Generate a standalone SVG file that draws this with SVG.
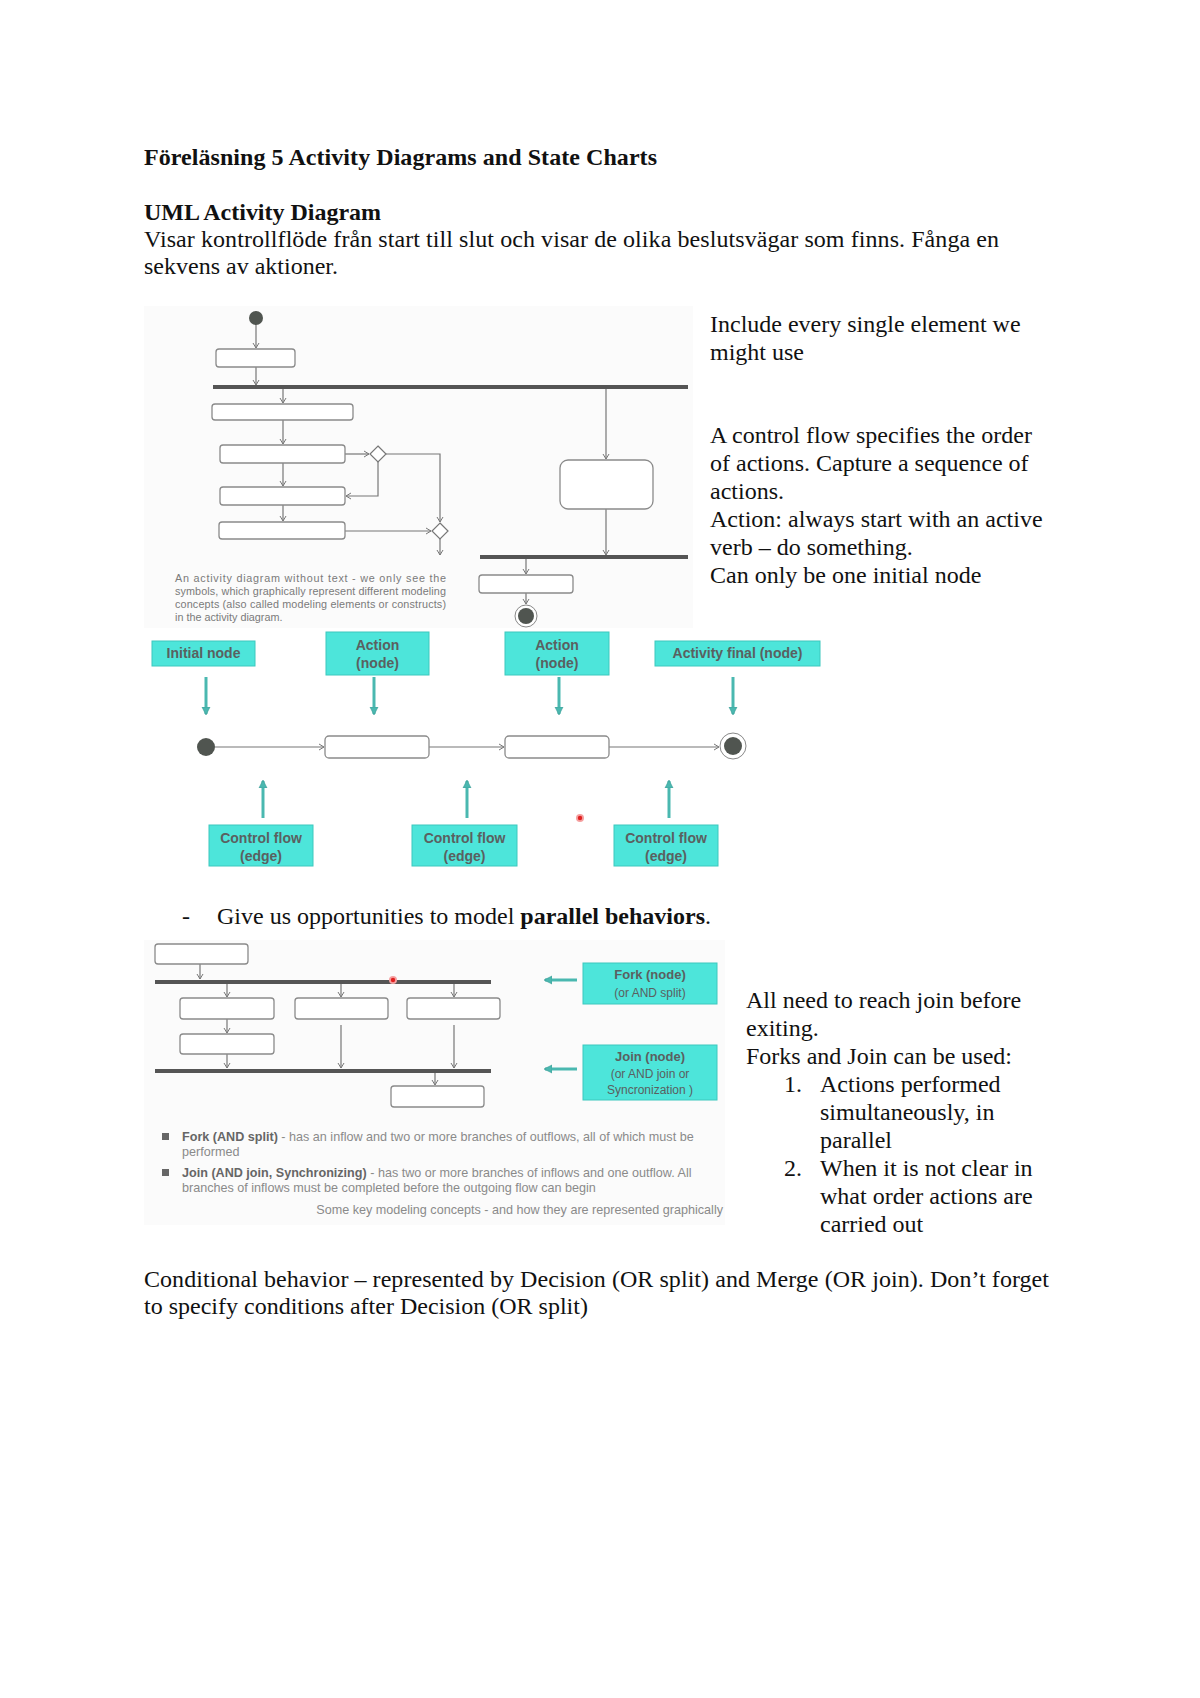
<svg xmlns="http://www.w3.org/2000/svg" width="1200" height="1698" viewBox="0 0 1200 1698">
<style>
.body{font-family:"Liberation Serif","Times New Roman",serif;font-size:24px;fill:#111}
.bold{font-weight:bold}
.box{fill:#fff;stroke:#8a8a8a;stroke-width:1.3}
.bar{fill:#555}
.dot{fill:#505550}
.ln{fill:none;stroke:#777;stroke-width:1.2}
.cap{font-family:"Liberation Sans",Arial,sans-serif;font-size:10.8px;fill:#7a7a7a}
.cy{fill:#4de5da;stroke:#3cc8be;stroke-width:1}
.cyt{font-family:"Liberation Sans",Arial,sans-serif;font-size:14px;font-weight:bold;fill:#5a6060;text-anchor:middle}
.cyn{font-family:"Liberation Sans",Arial,sans-serif;font-size:12px;fill:#5a6060;text-anchor:middle}
.cyf{font-family:"Liberation Sans",Arial,sans-serif;font-size:13px;font-weight:bold;fill:#5a6060;text-anchor:middle}
.tarr{fill:none;stroke:#4ab8b0;stroke-width:3}
.bul{font-family:"Liberation Sans",Arial,sans-serif;font-size:12.6px;fill:#8a8a8a}
.bulb{font-weight:bold;fill:#666}
</style>
<defs>
<marker id="oa" markerWidth="8" markerHeight="8" refX="6" refY="4" orient="auto" markerUnits="userSpaceOnUse">
<path d="M1,1 L6,4 L1,7" fill="none" stroke="#777" stroke-width="1"/>
</marker>
<marker id="ta" markerWidth="10" markerHeight="10" refX="7" refY="5" orient="auto" markerUnits="userSpaceOnUse">
<path d="M0,1 L8,5 L0,9 Z" fill="#4ab8b0" stroke="#3a9a94" stroke-width="0.6"/>
</marker>
</defs>
<rect width="1200" height="1698" fill="#fff"/>

<!-- Heading text -->
<g id="heading">
<text class="body bold" x="144" y="165" textLength="513" lengthAdjust="spacing">Föreläsning 5 Activity Diagrams and State Charts</text>
<text class="body bold" x="144" y="220" textLength="237" lengthAdjust="spacing">UML Activity Diagram</text>
<text class="body" x="144" y="247" textLength="855" lengthAdjust="spacing">Visar kontrollflöde från start till slut och visar de olika beslutsvägar som finns. Fånga en</text>
<text class="body" x="144" y="274">sekvens av aktioner.</text>
</g>

<!-- Top activity diagram image -->
<rect x="144" y="306" width="549" height="322" fill="#fbfbfb"/>
<g id="connectors-top">
<path class="ln" d="M256,325 V348" marker-end="url(#oa)"/>
<path class="ln" d="M256,367 V385" marker-end="url(#oa)"/>
<path class="ln" d="M283,389 V403" marker-end="url(#oa)"/>
<path class="ln" d="M606,389 V459" marker-end="url(#oa)"/>
<path class="ln" d="M283,420 V444" marker-end="url(#oa)"/>
<path class="ln" d="M345,454 H369" marker-end="url(#oa)"/>
<path class="ln" d="M378,462 V496 H346" marker-end="url(#oa)"/>
<path class="ln" d="M386,454 H440 V522" marker-end="url(#oa)"/>
<path class="ln" d="M283,463 V486" marker-end="url(#oa)"/>
<path class="ln" d="M283,505 V521" marker-end="url(#oa)"/>
<path class="ln" d="M345,531 H431" marker-end="url(#oa)"/>
<path class="ln" d="M440,539 V555" marker-end="url(#oa)"/>
<path class="ln" d="M606,509 V555" marker-end="url(#oa)"/>
<path class="ln" d="M526,559 V574" marker-end="url(#oa)"/>
<path class="ln" d="M526,593 V604" marker-end="url(#oa)"/>
</g>
<g id="t-initial"><circle class="dot" cx="256" cy="318" r="7"/></g>
<g id="t-box1"><rect class="box" x="216" y="349" width="79" height="18" rx="3"/></g>
<g id="t-fork"><rect class="bar" x="213" y="385" width="475" height="4"/></g>
<g id="t-box2"><rect class="box" x="212" y="404" width="141" height="16" rx="3"/></g>
<g id="t-box3"><rect class="box" x="220" y="445" width="125" height="18" rx="3"/></g>
<g id="t-dec1"><path d="M378,446 L386,454 L378,462 L370,454 Z" fill="#fff" stroke="#777" stroke-width="1.2"/></g>
<g id="t-box4"><rect class="box" x="220" y="487" width="125" height="18" rx="3"/></g>
<g id="t-box5"><rect class="box" x="219" y="522" width="126" height="17" rx="3"/></g>
<g id="t-merge"><path d="M440,523 L448,531 L440,539 L432,531 Z" fill="#fff" stroke="#777" stroke-width="1.2"/></g>
<g id="t-rbox"><rect class="box" x="560" y="460" width="93" height="49" rx="8"/></g>
<g id="t-join"><rect class="bar" x="480" y="555" width="208" height="4"/></g>
<g id="t-box6"><rect class="box" x="479" y="575" width="94" height="18" rx="3"/></g>
<g id="t-final"><circle cx="526" cy="616" r="11" fill="#fff" stroke="#888" stroke-width="1"/><circle class="dot" cx="526" cy="616" r="8"/></g>
<g id="t-caption">
<text class="cap" x="175" y="582" textLength="271" lengthAdjust="spacing">An activity diagram without text - we only see the</text>
<text class="cap" x="175" y="595" textLength="271" lengthAdjust="spacing">symbols, which graphically represent different modeling</text>
<text class="cap" x="175" y="608" textLength="271" lengthAdjust="spacing">concepts (also called modeling elements or constructs)</text>
<text class="cap" x="175" y="621">in the activity diagram.</text>
</g>

<!-- Right column text 1 -->
<g id="notes1">
<text class="body" x="710" y="332">Include every single element we</text>
<text class="body" x="710" y="360">might use</text>
<text class="body" x="710" y="443">A control flow specifies the order</text>
<text class="body" x="710" y="471">of actions. Capture a sequence of</text>
<text class="body" x="710" y="499">actions.</text>
<text class="body" x="710" y="527">Action: always start with an active</text>
<text class="body" x="710" y="555">verb – do something.</text>
<text class="body" x="710" y="583">Can only be one initial node</text>
</g>

<!-- Cyan concept diagram -->
<g id="connectors-concepts">
<path class="tarr" d="M206,677 V714" marker-end="url(#ta)"/>
<path class="tarr" d="M374,677 V714" marker-end="url(#ta)"/>
<path class="tarr" d="M559,677 V714" marker-end="url(#ta)"/>
<path class="tarr" d="M733,677 V714" marker-end="url(#ta)"/>
<path class="tarr" d="M263,818 V781" marker-end="url(#ta)"/>
<path class="tarr" d="M467,818 V781" marker-end="url(#ta)"/>
<path class="tarr" d="M669,818 V781" marker-end="url(#ta)"/>
<path class="ln" d="M215,747 H324" marker-end="url(#oa)"/>
<path class="ln" d="M429,747 H504" marker-end="url(#oa)"/>
<path class="ln" d="M609,747 H719" marker-end="url(#oa)"/>
</g>
<g id="c-initial-label"><rect class="cy" x="152" y="641" width="103" height="25"/><text class="cyt" x="203.5" y="658">Initial node</text></g>
<g id="c-action1-label"><rect class="cy" x="326" y="632" width="103" height="43"/><text class="cyt" x="377.5" y="650">Action</text><text class="cyt" x="377.5" y="668">(node)</text></g>
<g id="c-action2-label"><rect class="cy" x="505" y="632" width="104" height="43"/><text class="cyt" x="557" y="650">Action</text><text class="cyt" x="557" y="668">(node)</text></g>
<g id="c-final-label"><rect class="cy" x="655" y="641" width="165" height="25"/><text class="cyt" x="737.5" y="658">Activity final (node)</text></g>
<g id="c-initial"><circle class="dot" cx="206" cy="747" r="9"/></g>
<g id="c-action1"><rect class="box" x="325" y="736" width="104" height="22" rx="4"/></g>
<g id="c-action2"><rect class="box" x="505" y="736" width="104" height="22" rx="4"/></g>
<g id="c-final"><circle cx="733" cy="746" r="13" fill="#fff" stroke="#888" stroke-width="1"/><circle class="dot" cx="733" cy="746" r="9"/></g>
<g id="c-cf1"><rect class="cy" x="209" y="825" width="104" height="41"/><text class="cyt" x="261" y="843">Control flow</text><text class="cyt" x="261" y="861">(edge)</text></g>
<g id="c-cf2"><rect class="cy" x="412" y="825" width="105" height="41"/><text class="cyt" x="464.5" y="843">Control flow</text><text class="cyt" x="464.5" y="861">(edge)</text></g>
<g id="c-cf3"><rect class="cy" x="614" y="825" width="104" height="41"/><text class="cyt" x="666" y="843">Control flow</text><text class="cyt" x="666" y="861">(edge)</text></g>
<circle cx="580" cy="818" r="4" fill="#f5a0a0"/><circle cx="580" cy="818" r="2.2" fill="#e02020"/>

<!-- Parallel text -->
<g id="parallel-line">
<text class="body" x="182" y="924">-</text>
<text class="body" x="217" y="924">Give us opportunities to model <tspan class="bold">parallel behaviors</tspan>.</text>
</g>

<!-- Fork/Join diagram -->
<rect x="144" y="940" width="581" height="285" fill="#fbfbfb"/>
<g id="connectors-parallel">
<path class="ln" d="M200,964 V979" marker-end="url(#oa)"/>
<path class="ln" d="M227,984 V997" marker-end="url(#oa)"/>
<path class="ln" d="M341,984 V997" marker-end="url(#oa)"/>
<path class="ln" d="M454,984 V997" marker-end="url(#oa)"/>
<path class="ln" d="M227,1019 V1033" marker-end="url(#oa)"/>
<path class="ln" d="M227,1054 V1068" marker-end="url(#oa)"/>
<path class="ln" d="M341,1025 V1068" marker-end="url(#oa)"/>
<path class="ln" d="M454,1025 V1068" marker-end="url(#oa)"/>
<path class="ln" d="M435,1073 V1085" marker-end="url(#oa)"/>
<path class="tarr" d="M577,980 H545" marker-end="url(#ta)"/>
<path class="tarr" d="M577,1069 H545" marker-end="url(#ta)"/>
</g>
<g id="p-box0"><rect class="box" x="155" y="944" width="93" height="20" rx="3"/></g>
<g id="p-fork"><rect class="bar" x="155" y="980" width="336" height="4"/></g>
<circle cx="393" cy="980" r="4" fill="#f5a0a0"/><circle cx="393" cy="980" r="2.2" fill="#e02020"/>
<g id="p-box1"><rect class="box" x="180" y="998" width="94" height="21" rx="3"/></g>
<g id="p-box2"><rect class="box" x="295" y="998" width="93" height="21" rx="3"/></g>
<g id="p-box3"><rect class="box" x="407" y="998" width="93" height="21" rx="3"/></g>
<g id="p-box4"><rect class="box" x="180" y="1034" width="94" height="20" rx="3"/></g>
<g id="p-join"><rect class="bar" x="155" y="1069" width="336" height="4"/></g>
<g id="p-box5"><rect class="box" x="391" y="1086" width="93" height="21" rx="3"/></g>
<g id="p-fork-label"><rect class="cy" x="583" y="963" width="134" height="41"/><text class="cyf" x="650" y="979">Fork  (node)</text><text class="cyn" x="650" y="997">(or AND split)</text></g>
<g id="p-join-label"><rect class="cy" x="583" y="1045" width="134" height="55"/><text class="cyf" x="650" y="1061">Join  (node)</text><text class="cyn" x="650" y="1078">(or AND join or</text><text class="cyn" x="650" y="1094">Syncronization )</text></g>
<g id="p-bullets">
<rect x="162" y="1133" width="7" height="7" fill="#666"/>
<text class="bul" x="182" y="1141"><tspan class="bulb">Fork (AND split)</tspan> - has an inflow and two or more branches of outflows, all of which must be</text>
<text class="bul" x="182" y="1156">performed</text>
<rect x="162" y="1169" width="7" height="7" fill="#666"/>
<text class="bul" x="182" y="1177"><tspan class="bulb">Join (AND join, Synchronizing)</tspan> - has two or more branches of inflows and one outflow. All</text>
<text class="bul" x="182" y="1192">branches of inflows must be completed before the outgoing flow can begin</text>
<text class="bul" x="723" y="1214" text-anchor="end">Some key modeling concepts - and how they are represented graphically</text>
</g>

<!-- Right column text 2 -->
<g id="notes2">
<text class="body" x="746" y="1008">All need to reach join before</text>
<text class="body" x="746" y="1036">exiting.</text>
<text class="body" x="746" y="1064">Forks and Join can be used:</text>
<text class="body" x="784" y="1092">1.</text>
<text class="body" x="820" y="1092">Actions performed</text>
<text class="body" x="820" y="1120">simultaneously, in</text>
<text class="body" x="820" y="1148">parallel</text>
<text class="body" x="784" y="1176">2.</text>
<text class="body" x="820" y="1176">When it is not clear in</text>
<text class="body" x="820" y="1204">what order actions are</text>
<text class="body" x="820" y="1232">carried out</text>
</g>

<g id="conditional">
<text class="body" x="144" y="1287" textLength="905" lengthAdjust="spacing">Conditional behavior – represented by Decision (OR split) and Merge (OR join). Don’t forget</text>
<text class="body" x="144" y="1314">to specify conditions after Decision (OR split)</text>
</g>
</svg>
